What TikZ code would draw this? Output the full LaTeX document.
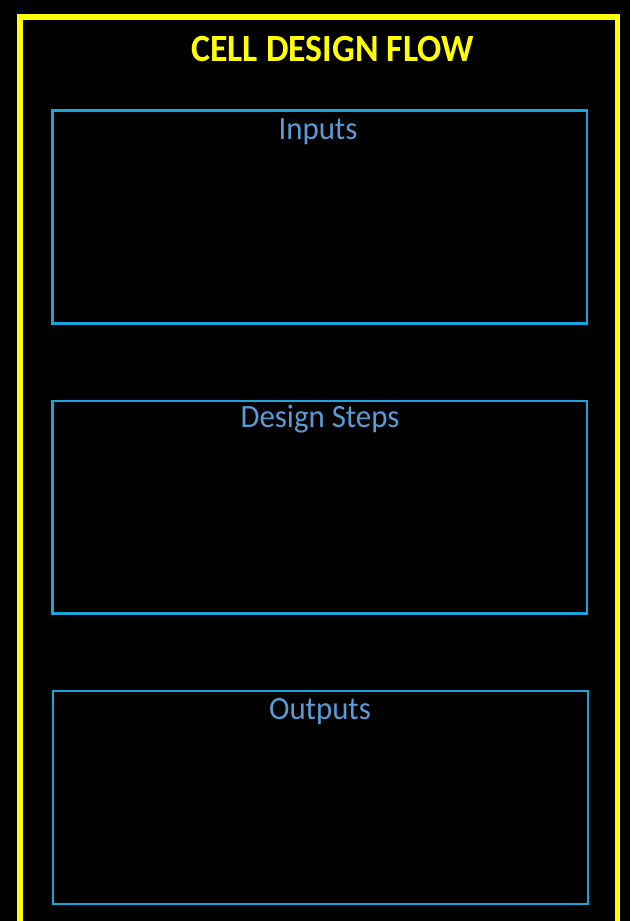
\documentclass[tikz,border=0pt]{standalone}
\usepackage{fontspec}
\setmainfont{Carlito}
\definecolor{frameyellow}{HTML}{FFFF00}
\definecolor{boxblue}{HTML}{1AA3DC}
\definecolor{labelblue}{HTML}{5B9BD5}
\begin{document}
\begin{tikzpicture}[x=1pt,y=-1pt,
  panel/.style={draw=boxblue,line width=2.5pt},
  paneltext/.style={text=labelblue,anchor=base,inner sep=0pt,xscale=0.95,font=\fontsize{32.5}{39}\selectfont},
  titletext/.style={text=frameyellow,anchor=base,inner sep=0pt,xscale=0.93,font=\bfseries\fontsize{38.5}{46}\selectfont}]
\useasboundingbox (0,0) rectangle (630,921);
\fill[black] (0,0) rectangle (630,921);
\draw[frameyellow,line width=5.5pt] (20,935) -- (20,17) -- (617.5,17) -- (617.5,935);
\node[titletext] (title) at (332.7,61.7) {CELL DESIGN FLOW};
\draw[panel] (52.5,110.7) rectangle (587,323.5);
\node[paneltext] (inputs) at (318,139) {Inputs};
\draw[panel] (52.5,401) rectangle (587,613.5);
\node[paneltext] (design) at (320,427.5) {Design Steps};
\draw[panel] (52.8,691) rectangle (587.8,904);
\node[paneltext] (outputs) at (320,719) {Outputs};
\end{tikzpicture}
\end{document}
